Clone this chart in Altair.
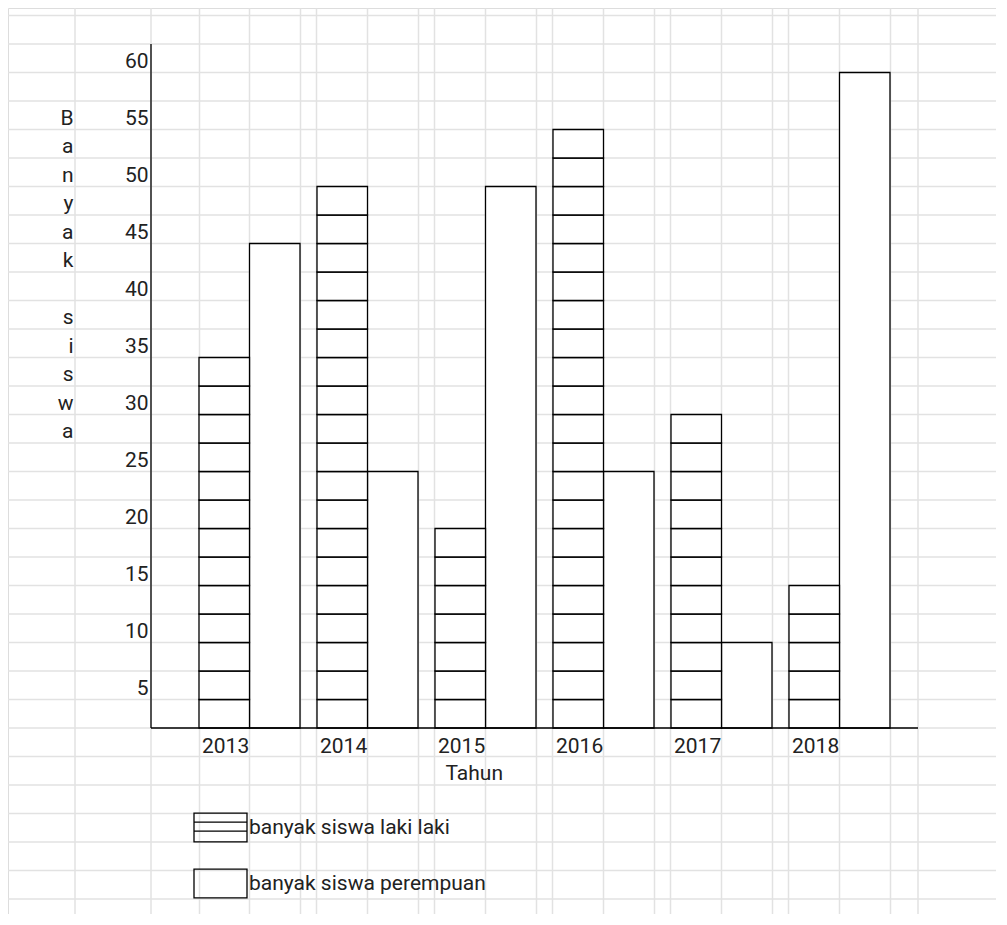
import altair as alt
import pandas as pd

# data
tahun = ["2013", "2014", "2015", "2016", "2017", "2018"]
laki_laki = [34, 49, 19, 54, 29, 14]
perempuan = [44, 24, 49, 24, 9, 59]
ket_laki = "banyak siswa laki laki"
ket_perempuan = "banyak siswa perempuan"
y_ticks = [5, 10, 15, 20, 25, 30, 35, 40, 45, 50, 55, 60]
judul_y1 = ["B", "a", "n", "y", "a", "k"]
judul_y2 = ["s", "i", "s", "w", "a"]

## layout (spreadsheet look: one row = 2.5 units = 28.5 px)
W, H = 988, 906
dasar = 1.5          # value on the x axis line
atas = 61.5          # top of the y axis line
langkah = 2.5
baris_px = 28.5
px_unit = baris_px / langkah
y_dasar_px = 720
y_lo = dasar - (H - y_dasar_px) / px_unit
y_hi = dasar + y_dasar_px / px_unit
sumbu_x_px = 143
lebar_band = 101
abu = "#e2e2e2"
hitam = "#222"
font = "Roboto"

## background spreadsheet rows
df_baris = pd.DataFrame({"g": [dasar + langkah * k for k in range(-6, 26)]})

## laki laki bars are drawn as stacked cells (striped look)
rows = []
for t, v in zip(tahun, laki_laki):
    b = dasar
    while b < v - 1e-9:
        rows.append({"tahun": t, "jenis": "laki", "y0": b, "y1": min(b + langkah, v)})
        b += langkah
df_laki = pd.DataFrame(rows)
df_perempuan = pd.DataFrame({"tahun": tahun, "jenis": "perempuan", "y0": dasar, "y1": perempuan})
df_legend = pd.DataFrame({"tahun": tahun[:2], "ket": [ket_laki, ket_perempuan]})

skala_x = alt.Scale(domain=tahun, range=[191, 882], paddingInner=0.144, paddingOuter=0)
skala_y = alt.Scale(domain=[y_lo, y_hi], nice=False, zero=False)
skala_off = alt.Scale(domain=["laki", "perempuan"])

judul_kw = dict(titleAngle=0, titleAlign="right", titleBaseline="alphabetic", titleLineHeight=baris_px,
                titleFont=font, titleFontSize=21, titleFontWeight="normal", titleColor=hitam)

judul_bawah = alt.Axis(orient="left", grid=False, labels=False, ticks=False, domain=False,
                       title=judul_y2, titleX=65, titleY=116 + 7 * baris_px, **judul_kw)
label_y = alt.Axis(orient="left", values=y_ticks, grid=False, domain=False, ticks=False, tickSize=0,
                   offset=-sumbu_x_px, labelPadding=3, labelFont=font, labelFontSize=21, labelColor=hitam,
                   title=judul_y1, titleX=65 - sumbu_x_px, titleY=116, **judul_kw)
label_x = alt.Axis(orient="bottom", offset=y_dasar_px - H, bandPosition=0, grid=True, gridColor=abu,
                   gridWidth=1.5, domain=False, ticks=False, tickSize=0, labelAlign="left",
                   labelOffset=3 - lebar_band / 2, labelBaseline="top", labelPadding=7, labelAngle=0,
                   labelFont=font, labelFontSize=21, labelColor=hitam, title="Tahun", titleX=437,
                   titleY=51, titleAlign="left", titleBaseline="alphabetic", titleFont=font,
                   titleFontSize=21, titleFontWeight="normal", titleColor=hitam)
grid_x_mid = alt.Axis(orient="bottom", bandPosition=0.5, grid=True, gridColor=abu, gridWidth=1.5,
                      labels=False, ticks=False, domain=False, title=None)
grid_x_end = alt.Axis(orient="bottom", bandPosition=1, grid=True, gridColor=abu, gridWidth=1.5,
                      labels=False, ticks=False, domain=False, title=None)

satu = alt.Data(values=[{}])

def garis_abu(px):
    return alt.Chart(satu).mark_rule(color=abu, strokeWidth=1.5).encode(
        x=alt.value(px), y=alt.value(0), y2=alt.value(H))

baris = alt.Chart(df_baris).mark_rule(color=abu, strokeWidth=1.5).encode(
    y=alt.Y("g:Q", scale=skala_y, axis=None),
    x=alt.value(0), x2=alt.value(W),
)

bar_p = alt.Chart(df_perempuan).mark_bar(fill="white", stroke="black", strokeWidth=1.3).encode(
    x=alt.X("tahun:N", scale=skala_x, axis=label_x),
    xOffset=alt.XOffset("jenis:N", scale=skala_off),
    y=alt.Y("y1:Q", scale=skala_y, axis=label_y),
    y2="y0:Q",
)

bar_l = alt.Chart(df_laki).mark_bar(fill="white", stroke="black", strokeWidth=1.3).encode(
    x=alt.X("tahun:N", scale=skala_x, axis=grid_x_mid),
    xOffset=alt.XOffset("jenis:N", scale=skala_off),
    y=alt.Y("y1:Q", scale=skala_y, axis=judul_bawah),
    y2="y0:Q",
)

path_laki = "M-1,-0.54H1V0.54H-1Z M-1,-0.2H1 M-1,0.14H1"
path_perempuan = "M-1,-0.54H1V0.54H-1Z"

legenda = alt.Chart(df_legend).mark_point(filled=False, color="black", opacity=0, size=2809).encode(
    x=alt.X("tahun:N", scale=skala_x, axis=grid_x_end),
    shape=alt.Shape("ket:N",
                    scale=alt.Scale(domain=[ket_laki, ket_perempuan], range=[path_laki, path_perempuan]),
                    legend=alt.Legend(title=None, orient="none", legendX=185, legendY=792, padding=0,
                                      symbolSize=2809, symbolStrokeColor="black", symbolStrokeWidth=1.3,
                                      symbolFillColor="white", symbolOpacity=1, labelFont=font,
                                      labelFontSize=21, labelColor=hitam, labelOffset=1, labelLimit=400,
                                      rowPadding=11)),
)

garis_sumbu_x = alt.Chart(satu).mark_rule(color="black", strokeWidth=1.3).encode(
    x=alt.value(sumbu_x_px), x2=alt.value(910), y=alt.YDatum(dasar, axis=None))
garis_sumbu_y = alt.Chart(satu).mark_rule(color="black", strokeWidth=1.3).encode(
    x=alt.value(sumbu_x_px), y=alt.YDatum(dasar, axis=None), y2=alt.Y2Datum(atas))

chart = alt.layer(
    baris, garis_abu(67), garis_abu(sumbu_x_px), garis_abu(910),
    bar_p, bar_l, legenda, garis_sumbu_x, garis_sumbu_y,
).resolve_axis(x="independent", y="independent").properties(
    width=W, height=H, autosize=alt.AutoSizeParams(type="none"), padding=0,
).configure_view(stroke=None, strokeWidth=0).configure(font=font)

chart.save("out.html", embed_options={"renderer": "svg", "actions": False})
